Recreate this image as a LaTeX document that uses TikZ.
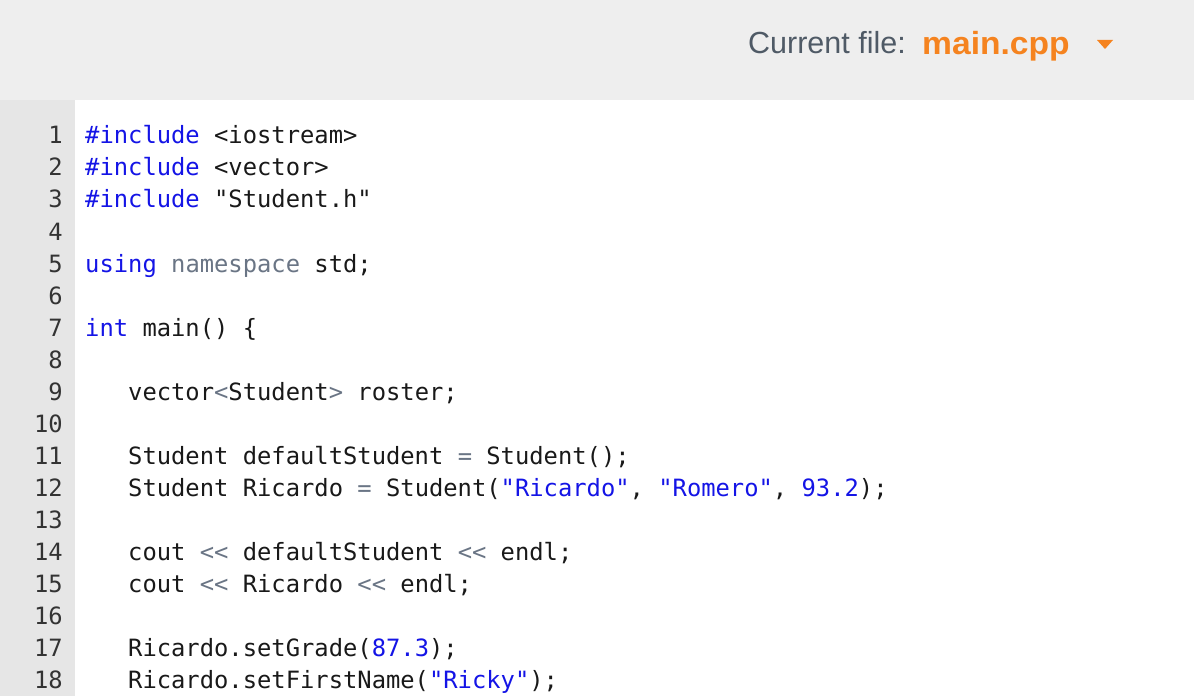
\documentclass[tikz,border=0pt]{standalone}
\usepackage{fontspec}
\newfontfamily\codef{DejaVu Sans Mono}
\newfontfamily\uif{Liberation Sans}
\definecolor{kw}{HTML}{1414E6}
\definecolor{gr}{HTML}{6A7585}
\definecolor{hgr}{HTML}{4F5A66}
\definecolor{hdr}{HTML}{EEEEEE}
\definecolor{gut}{HTML}{E6E6E6}
\definecolor{org}{HTML}{F5831F}
\newcommand{\K}[1]{\textcolor{kw}{#1}}
\newcommand{\G}[1]{\textcolor{gr}{#1}}
\begin{document}
\begin{tikzpicture}[x=1bp,y=-1bp,
  codeline/.style={anchor=base west,inner sep=0,font=\codef\fontsize{23.8bp}{28bp}\selectfont,text=black!90},
  lnum/.style={anchor=base east,inner sep=0,font=\codef\fontsize{23.8bp}{28bp}\selectfont,text=black!80}]
\useasboundingbox (0,0) rectangle (1194,696);
\fill[white] (0,0) rectangle (1194,696);
\fill[hdr] (0,0) rectangle (1194,100);
\fill[gut] (0,100) rectangle (75,696);
\node[anchor=base east,inner sep=0,font=\uif\fontsize{30.5bp}{32bp}\selectfont,text=hgr] (cf) at (906,54) {Current file:};
\node[anchor=base west,inner sep=0,font=\uif\bfseries\fontsize{32bp}{34bp}\selectfont,text=org,xscale=1.05] (mf) at (922,55) {main.cpp};
\fill[org] (1097,40) -- (1113,40) -- (1105,49) -- cycle;
\foreach \i in {1,...,18} { \node[lnum] (n\i) at (63,{112+32*\i}) {\i}; }
\newcommand{\Ln}[2]{\node[codeline] (l#1) at (85,{112+32*#1}) {#2};}
\Ln{1}{\K{\#include} <iostream>}
\Ln{2}{\K{\#include} <vector>}
\Ln{3}{\K{\#include} "Student.h"}
\Ln{5}{\K{using} \G{namespace} std;}
\Ln{7}{\K{int} main() \{}
\Ln{9}{\ \ \ vector\G{<}Student\G{>} roster;}
\Ln{11}{\ \ \ Student defaultStudent \G{=} Student();}
\Ln{12}{\ \ \ Student Ricardo \G{=} Student(\K{"Ricardo"}, \K{"Romero"}, \K{93.2});}
\Ln{14}{\ \ \ cout \G{<<} defaultStudent \G{<<} endl;}
\Ln{15}{\ \ \ cout \G{<<} Ricardo \G{<<} endl;}
\Ln{17}{\ \ \ Ricardo.setGrade(\K{87.3});}
\Ln{18}{\ \ \ Ricardo.setFirstName(\K{"Ricky"});}
\end{tikzpicture}
\end{document}
